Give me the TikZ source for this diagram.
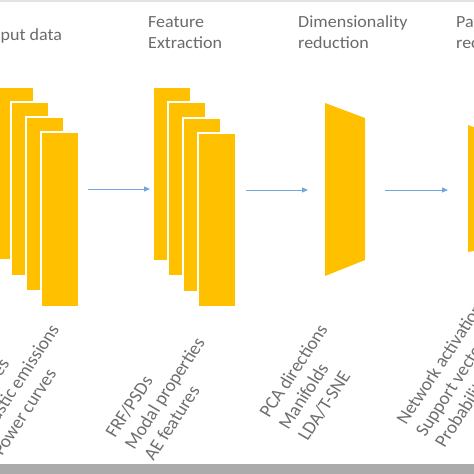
\documentclass[tikz,border=0pt]{standalone}
\usepackage{fontspec}
\setmainfont{Carlito}
\usetikzlibrary{arrows.meta}
\definecolor{gold}{HTML}{FFC000}
\definecolor{ttlgray}{HTML}{6B6B6B}
\definecolor{lblgray}{HTML}{6E6E6E}
\definecolor{arrblue}{HTML}{6FA8DC}
\definecolor{topband}{HTML}{E2E2E2}
\definecolor{botband}{HTML}{ABABAB}
\tikzset{
  sheet/.style={fill=gold, draw=white, line width=1.5pt},
  slab/.style={fill=gold, draw=none},
  ttl/.style={text=ttlgray, font=\fontsize{17}{21}\selectfont, inner sep=0pt, anchor=base west, xscale=1.06},
  lbl/.style={text=lblgray, font=\fontsize{18}{21.5}\selectfont, inner sep=0pt, anchor=base west, xscale=1.06, rotate=58},
  flow/.style={draw=arrblue, line width=1pt, -{Triangle[length=6pt,width=5pt]}}
}
\begin{document}
\begin{tikzpicture}[x=1pt,y=-1pt]
\useasboundingbox (0,0) rectangle (474,474);
\clip (0,0) rectangle (474,474);
\fill[white] (0,0) rectangle (474,474);
\fill[topband] (0,0) rectangle (474,2.2);
\fill[botband] (0,464) rectangle (474,474);

% titles
\node[ttl] (t1) at (-13.6,40.5) {Input data};
\node[ttl] (t2a) at (148,27) {Feature};
\node[ttl] (t2b) at (148,48) {Extraction};
\node[ttl] (t3a) at (298,27) {Dimensionality};
\node[ttl] (t3b) at (298,48) {reduction};
\node[ttl] (t4a) at (456,27) {Pattern};
\node[ttl] (t4b) at (456,48) {recognition};

% input data stack
\path[sheet] (-20,87) rectangle (34,260);
\path[sheet] (11,102) rectangle (49,276);
\path[sheet] (26,117) rectangle (64,291);
\path[sheet] (41,132) rectangle (79,307);

% feature extraction stack
\path[sheet] (153,87) rectangle (191,261);
\path[sheet] (168,102) rectangle (206,276);
\path[sheet] (183,118) rectangle (221,292);
\path[sheet] (198,133) rectangle (236,307);

% dimensionality reduction
\path[slab] (325,103) -- (365,118) -- (365,260) -- (325,276) -- cycle;

% pattern recognition
\path[slab] (468,125) -- (490,133) -- (490,248) -- (468,252) -- cycle;

% arrows
\coordinate (a1s) at (88,189);  \coordinate (a1e) at (150,189);
\coordinate (a2s) at (246,190); \coordinate (a2e) at (308,190);
\coordinate (a3s) at (385,190); \coordinate (a3e) at (448,190);
\draw[flow] (a1s) -- (a1e);
\draw[flow] (a2s) -- (a2e);
\draw[flow] (a3s) -- (a3e);

% rotated labels
\node[lbl] (l1a) at (-36.6,434.2) {Time series};
\node[lbl] (l1b) at (-17.3,445.6) {Acoustic emissions};
\node[lbl] (l1c) at (2,457) {Power curves};

\node[lbl] (l2a) at (115,439) {FRF/PSDs};
\node[lbl] (l2b) at (134.3,450.4) {Modal properties};
\node[lbl] (l2c) at (153.6,461.8) {AE features};

\node[lbl] (l3a) at (269,419) {PCA directions};
\node[lbl] (l3b) at (288.3,430.4) {Manifolds};
\node[lbl] (l3c) at (307.6,441.8) {LDA/T-SNE};

\node[lbl] (l4a) at (406,426) {Network activations};
\node[lbl] (l4b) at (425.3,437.4) {Support vectors};
\node[lbl] (l4c) at (444.6,448.8) {Probabilities};
\end{tikzpicture}
\end{document}
